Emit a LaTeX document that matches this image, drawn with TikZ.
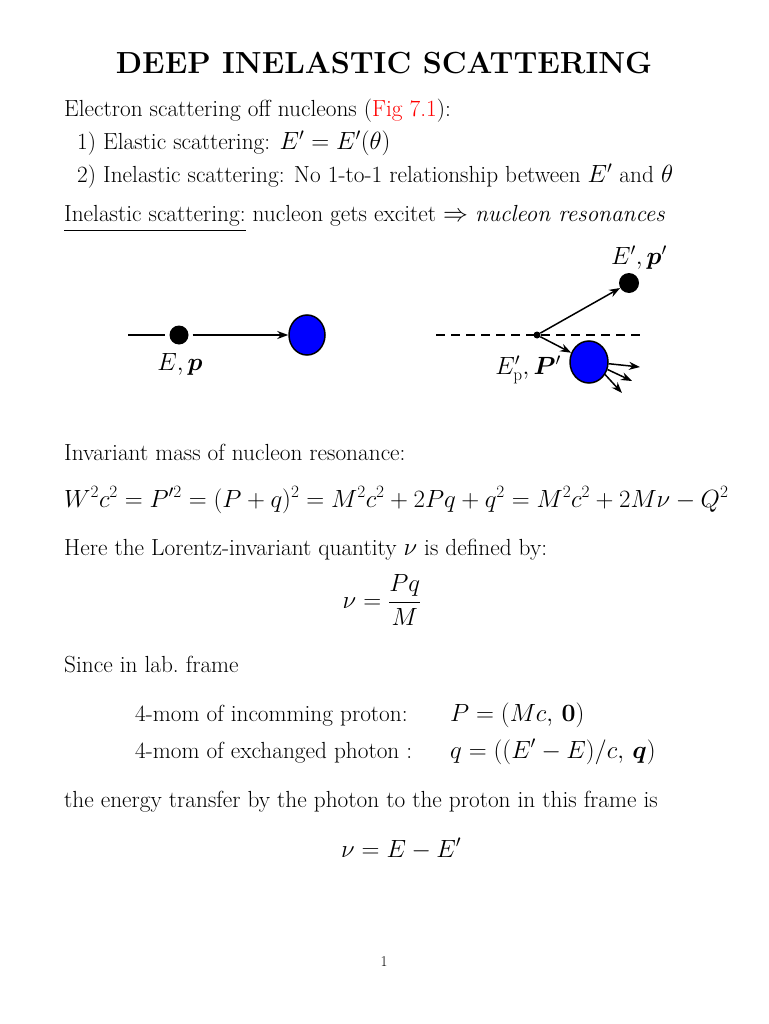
\documentclass[tikz,border=0pt]{standalone}
\usepackage{amsmath,bm}
\usetikzlibrary{arrows.meta,shapes.geometric}
\begin{document}
\begin{tikzpicture}[x=1pt,y=-1pt,
  txt/.style={anchor=base west,inner sep=0pt,font=\fontsize{23.3}{28}\selectfont},
  arr/.style={-{Stealth[length=11pt,width=8pt]},line width=1.5pt},
  blob/.style={ellipse,draw=black,line width=1.5pt,fill=blue,minimum width=36pt,minimum height=40pt,inner sep=0pt},
  dot/.style={circle,fill=black,inner sep=0pt}]
\useasboundingbox (0,0) rectangle (768,1024);
\node[anchor=center,font=\fontsize{30.5}{36}\selectfont\bfseries] (title) at (384,63) {DEEP INELASTIC SCATTERING};
\node[txt] (l1) at (64,117) {Electron scattering off nucleons ({\color{red}Fig 7.1}):};
\node[txt] (l2) at (77,150) {1) Elastic scattering: $E'=E'(\theta)$};
\node[txt] (l3) at (77,183) {2) Inelastic scattering: No 1-to-1 relationship between $E'$ and $\theta$};
\node[txt] (l4) at (64,222) {\underline{Inelastic scattering:} nucleon gets excitet $\Rightarrow$ \textit{nucleon resonances}};
% left diagram
\node[dot,minimum size=19pt] (e1) at (179,335) {};
\coordinate (s1) at (128,335);
\node[blob] (n1) at (307,335) {};
\draw[line width=1.5pt,shorten >=4pt] (s1) -- (e1);
\draw[arr,shorten <=4pt] (e1) -- (n1);
\node[txt,anchor=center] (lab1) at (180,364) {$E,\bm{p}$};
% right diagram
\coordinate (d1) at (436,335);
\coordinate (d2) at (642,335);
\draw[line width=1.5pt,dash pattern=on 9pt off 6pt] (d1) -- (d2);
\node[dot,minimum size=7pt] (v) at (537,335) {};
\node[dot,minimum size=20pt] (e2) at (629,283) {};
\node[blob,minimum width=38pt,minimum height=42pt] (n2) at (589,362) {};
\draw[arr] (v) -- (e2);
\draw[arr] (v) -- (n2);
\coordinate (o1) at (640,367);
\coordinate (o2) at (632,381);
\coordinate (o3) at (622,393);
\draw[arr] (n2.-5) -- (o1);
\draw[arr] (n2.-22) -- (o2);
\draw[arr] (n2.-38) -- (o3);
\node[txt,anchor=center] (lab2) at (639,258) {$E',\bm{p}'$};
\node[txt,anchor=center] (lab3) at (528,370) {$E'_{\mathrm{p}},\bm{P}'$};
% text
\node[txt] (l5) at (64,460) {Invariant mass of nucleon resonance:};
\node[txt] (l6) at (64,507) {$W^2c^2=P'^2=(P+q)^2=M^2c^2+2Pq+q^2=M^2c^2+2M\nu-Q^2$};
\node[txt] (l7) at (64,555) {Here the Lorentz-invariant quantity $\nu$ is defined by:};
\node[txt,anchor=center] (l8) at (382,600) {$\displaystyle\nu=\frac{Pq}{M}$};
\node[txt] (l9) at (64,672) {Since in lab.\ frame};
\node[txt] (l10) at (135,721) {4-mom of incomming proton:};
\node[txt] (l10b) at (450,721) {$P=(Mc,\,\mathbf{0})$};
\node[txt] (l11) at (135,758) {4-mom of exchanged photon :};
\node[txt] (l11b) at (450,758) {$q=((E'-E)/c,\,\bm{q})$};
\node[txt] (l12) at (64,807) {the energy transfer by the photon to the proton in this frame is};
\node[txt] (l13) at (341,857) {$\nu=E-E'$};
\node[anchor=center,font=\fontsize{15}{18}\selectfont] (pg) at (384,962) {1};
\end{tikzpicture}
\end{document}
